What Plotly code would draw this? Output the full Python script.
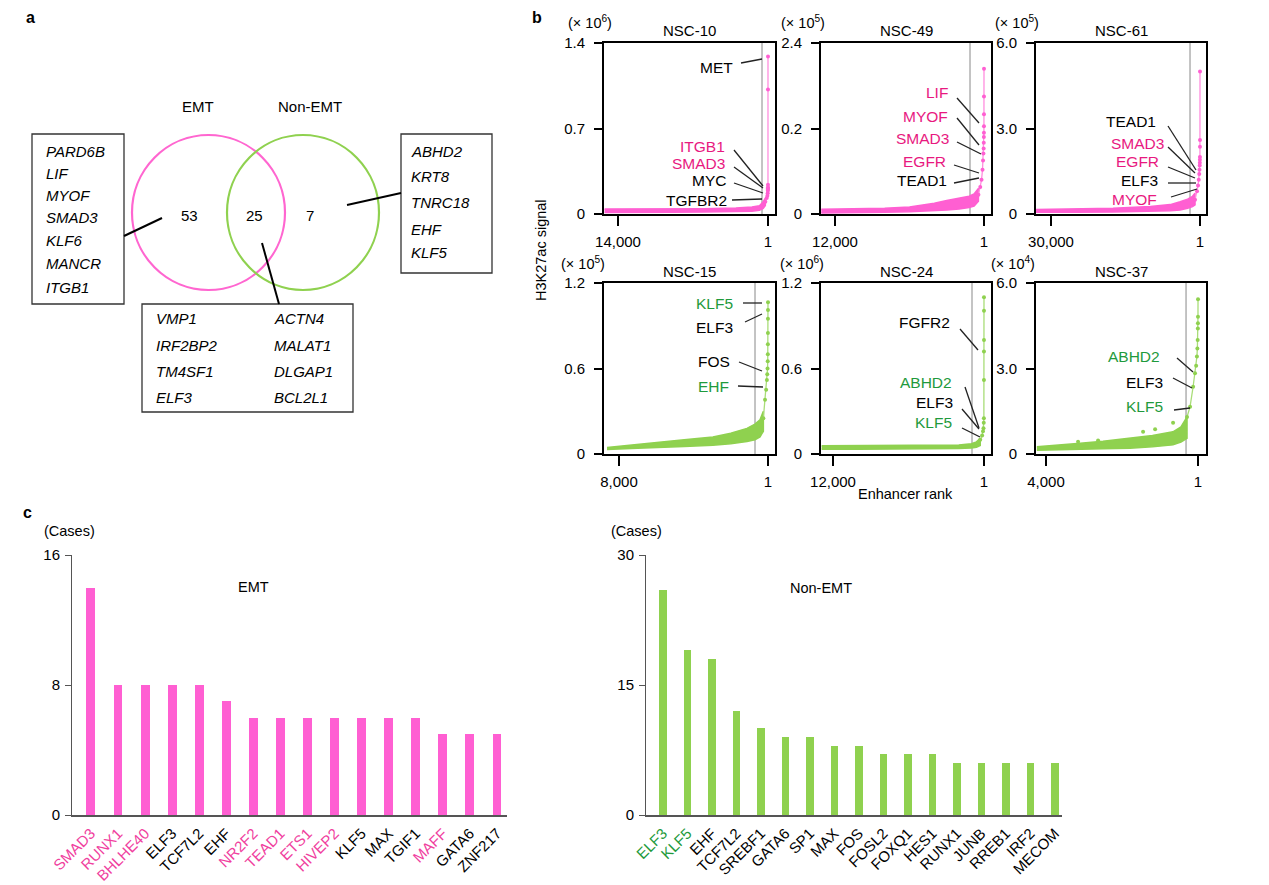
import plotly.graph_objects as go

# page body has an 8px margin: the figure is sized and offset so that
# pixel coordinates below refer to the browser window
OFF = 8
W, H = 1269 - OFF, 885 - OFF


def X(p):
    return (p - OFF) / W


def Y(p):
    return 1 - (p - OFF) / H


FONT = "Liberation Sans, Arial, Helvetica, sans-serif"
PINK = "#ff5fd2"
PINK_TAIL = "#ff8ede"
PINK_TXT = "#e8197f"
PINK_TICK = "#f0409e"
GREEN = "#8fd14f"
GREEN_TAIL = "#a9dd78"
GREEN_TXT = "#1f9a3c"

# ---------------- Panel a data ----------------
venn_sets = ["EMT", "Non-EMT"]
venn_counts = [53, 25, 7]  # EMT only, shared, Non-EMT only
emt_only_genes = ["PARD6B", "LIF", "MYOF", "SMAD3", "KLF6", "MANCR", "ITGB1"]
shared_genes_col1 = ["VMP1", "IRF2BP2", "TM4SF1", "ELF3"]
shared_genes_col2 = ["ACTN4", "MALAT1", "DLGAP1", "BCL2L1"]
nonemt_only_genes = ["ABHD2", "KRT8", "TNRC18", "EHF", "KLF5"]

# ---------------- Panel b data ----------------
samples = ["NSC-10", "NSC-49", "NSC-61", "NSC-15", "NSC-24", "NSC-37"]
sample_group = ["emt", "emt", "emt", "non", "non", "non"]
sample_exponent = [6, 5, 5, 5, 6, 4]
y_top = [1.4, 2.4, 6.0, 1.2, 1.2, 6.0]
y_ticktext = [["0", "0.7", "1.4"], ["0", "0.2", "2.4"], ["0", "3.0", "6.0"],
              ["0", "0.6", "1.2"], ["0", "0.6", "1.2"], ["0", "3.0", "6.0"]]
x_tick_rank = [14000, 12000, 30000, 8000, 12000, 4000]
x_tick_text = ["14,000", "12,000", "30,000", "8,000", "12,000", "4,000"]
x_range = [[15307, -652], [13127, -563], [33020, -1207],
           [8805, -375], [12954, -556], [4263, -209]]
cutoff_rank = [560, 1127, 2010, 698, 954, 316]

# noisy band envelopes (rank, lower, upper) and top-ranked enhancers (rank, signal)
nsc10_band_rank = [15250, 12000, 9000, 6000, 3000, 1500, 800, 450, 250]
nsc10_band_lo = [0.012, 0.013, 0.014, 0.016, 0.019, 0.023, 0.030, 0.045, 0.070]
nsc10_band_hi = [0.040, 0.040, 0.042, 0.044, 0.050, 0.058, 0.068, 0.100, 0.130]
nsc10_top_rank = [250, 120, 60, 30, 15, 8, 5, 4, 3, 2, 1]
nsc10_top_val = [0.10, 0.13, 0.15, 0.17, 0.19, 0.20, 0.21, 0.22, 0.24, 1.02, 1.29]

nsc49_band_rank = [13100, 10000, 8000, 6000, 4000, 3000, 2000, 1200, 800, 450]
nsc49_band_lo = [0.015, 0.020, 0.024, 0.030, 0.045, 0.056, 0.070, 0.090, 0.110, 0.180]
nsc49_band_hi = [0.065, 0.072, 0.080, 0.100, 0.150, 0.190, 0.220, 0.250, 0.280, 0.360]
nsc49_top_rank = [450, 300, 200, 120, 80, 50, 30, 20, 12, 8, 5, 3, 2, 1]
nsc49_top_val = [0.27, 0.38, 0.48, 0.62, 0.75, 0.85, 0.92, 1.00, 1.08, 1.14, 1.23, 1.40, 1.65, 2.04]

nsc61_band_rank = [33000, 25000, 17500, 10000, 6000, 4000, 2500, 1500, 1000]
nsc61_band_lo = [0.06, 0.065, 0.07, 0.09, 0.11, 0.14, 0.20, 0.26, 0.32]
nsc61_band_hi = [0.16, 0.18, 0.20, 0.26, 0.33, 0.43, 0.52, 0.62, 0.73]
nsc61_top_rank = [1000, 600, 400, 250, 150, 100, 60, 40, 25, 15, 8, 3, 1]
nsc61_top_val = [0.50, 0.80, 1.00, 1.20, 1.40, 1.55, 1.70, 1.80, 1.90, 2.00, 2.36, 2.60, 5.00]

nsc15_band_rank = [8640, 7000, 5640, 4500, 2960, 2000, 1130, 700, 430, 250]
nsc15_band_lo = [0.032, 0.040, 0.048, 0.052, 0.062, 0.072, 0.088, 0.100, 0.120, 0.160]
nsc15_band_hi = [0.045, 0.065, 0.085, 0.100, 0.120, 0.145, 0.180, 0.210, 0.240, 0.300]
nsc15_top_rank = [250, 160, 100, 60, 40, 25, 15, 10, 7, 5, 3, 2, 1]
nsc15_top_val = [0.25, 0.38, 0.45, 0.52, 0.56, 0.60, 0.65, 0.70, 0.77, 0.85, 0.95, 1.01, 1.065]

nsc24_band_rank = [12900, 10000, 7000, 4000, 2000, 1000, 600, 300]
nsc24_band_lo = [0.033, 0.034, 0.035, 0.036, 0.038, 0.042, 0.048, 0.060]
nsc24_band_hi = [0.058, 0.058, 0.059, 0.060, 0.063, 0.072, 0.085, 0.110]
nsc24_top_rank = [300, 150, 80, 40, 20, 10, 6, 4, 3, 2, 1]
nsc24_top_val = [0.10, 0.13, 0.16, 0.18, 0.22, 0.25, 0.52, 0.72, 0.80, 1.006, 1.10]

nsc37_band_rank = [4240, 3700, 3100, 2500, 1790, 1200, 660, 450, 290]
nsc37_band_lo = [0.13, 0.14, 0.16, 0.18, 0.20, 0.25, 0.32, 0.42, 0.55]
nsc37_band_hi = [0.25, 0.30, 0.38, 0.45, 0.55, 0.65, 0.78, 0.95, 1.30]
nsc37_top_rank = [290, 210, 130, 80, 50, 30, 18, 10, 5, 3, 2, 1]
nsc37_top_val = [1.30, 1.66, 2.36, 2.83, 3.10, 3.42, 3.70, 4.00, 4.40, 4.59, 4.82, 5.43]
nsc37_outlier_rank = [3156, 2630, 1446, 1130, 657]
nsc37_outlier_val = [0.43, 0.47, 0.78, 0.87, 1.10]

band_rank = [nsc10_band_rank, nsc49_band_rank, nsc61_band_rank, nsc15_band_rank, nsc24_band_rank, nsc37_band_rank]
band_lo = [nsc10_band_lo, nsc49_band_lo, nsc61_band_lo, nsc15_band_lo, nsc24_band_lo, nsc37_band_lo]
band_hi = [nsc10_band_hi, nsc49_band_hi, nsc61_band_hi, nsc15_band_hi, nsc24_band_hi, nsc37_band_hi]
top_rank = [nsc10_top_rank, nsc49_top_rank, nsc61_top_rank, nsc15_top_rank, nsc24_top_rank, nsc37_top_rank]
top_val = [nsc10_top_val, nsc49_top_val, nsc61_top_val, nsc15_top_val, nsc24_top_val, nsc37_top_val]

# labelled genes per sample: (gene, group)
nsc10_genes = [("MET", "k"), ("ITGB1", "emt"), ("SMAD3", "emt"), ("MYC", "k"), ("TGFBR2", "k")]
nsc49_genes = [("LIF", "emt"), ("MYOF", "emt"), ("SMAD3", "emt"), ("EGFR", "emt"), ("TEAD1", "k")]
nsc61_genes = [("TEAD1", "k"), ("SMAD3", "emt"), ("EGFR", "emt"), ("ELF3", "k"), ("MYOF", "emt")]
nsc15_genes = [("KLF5", "non"), ("ELF3", "k"), ("FOS", "k"), ("EHF", "non")]
nsc24_genes = [("FGFR2", "k"), ("ABHD2", "non"), ("ELF3", "k"), ("KLF5", "non")]
nsc37_genes = [("ABHD2", "non"), ("ELF3", "k"), ("KLF5", "non")]
sample_genes = [nsc10_genes, nsc49_genes, nsc61_genes, nsc15_genes, nsc24_genes, nsc37_genes]

# ---------------- Panel c data ----------------
emt_tfs = ["SMAD3", "RUNX1", "BHLHE40", "ELF3", "TCF7L2", "EHF", "NR2F2", "TEAD1",
           "ETS1", "HIVEP2", "KLF5", "MAX", "TGIF1", "MAFF", "GATA6", "ZNF217"]
emt_cases = [14, 8, 8, 8, 8, 7, 6, 6, 6, 6, 6, 6, 6, 5, 5, 5]
emt_highlight = ["SMAD3", "RUNX1", "BHLHE40", "NR2F2", "TEAD1", "ETS1", "HIVEP2", "MAFF"]
non_tfs = ["ELF3", "KLF5", "EHF", "TCF7L2", "SREBF1", "GATA6", "SP1", "MAX", "FOS",
           "FOSL2", "FOXQ1", "HES1", "RUNX1", "JUNB", "RREB1", "IRF2", "MECOM"]
non_cases = [26, 19, 18, 12, 10, 9, 9, 8, 8, 7, 7, 7, 6, 6, 6, 6, 6]
non_highlight = ["ELF3", "KLF5"]

# ---------------- layout geometry (pixels) ----------------
cols_px = [(604, 775), (821, 991), (1036, 1206)]
rows_px = [(43, 214), (283, 454)]

label_pos = [
    [(735, 68, 741, 63, 762, 59), (727, 147, 734, 150, 763, 186), (727, 164, 734, 167, 763, 188),
     (728, 180, 734, 183, 763, 193), (729, 200, 732, 200, 762, 199)],
    [(950, 93, 957, 98, 979, 123), (950, 117, 957, 118, 979, 145), (951, 139, 957, 142, 981, 154),
     (948, 162, 954, 165, 979, 173), (949, 181, 954, 183, 979, 178)],
    [(1158, 121, 1168, 126, 1196, 170), (1166, 143, 1168, 147, 1195, 173), (1161, 161, 1168, 167, 1195, 178),
     (1160, 180, 1168, 183, 1196, 183), (1159, 199, 1171, 197, 1197, 189)],
    [(735, 303, 743, 303, 762, 303), (735, 327, 745, 322, 762, 314), (732, 361, 739, 362, 762, 371),
     (731, 386, 738, 386, 763, 387)],
    [(952, 322, 960, 329, 978, 350), (954, 382, 965, 387, 979, 428), (955, 403, 962, 409, 979, 429),
     (954, 422, 962, 428, 980, 437)],
    [(1162, 356, 1177, 358, 1193, 372), (1165, 382, 1173, 378, 1192, 388), (1165, 406, 1174, 410, 1190, 408)],
]
exp_pos = [(590, 22), (803, 22), (1017, 22), (583, 263), (802, 263), (1013, 263)]

fig = go.Figure()
annotations = []
shapes = []


def txt(x, y, s, size=14, color="black", xanchor="center", yanchor="middle", angle=0, family=FONT):
    annotations.append(dict(x=X(x), y=Y(y), xref="paper", yref="paper", text=s, showarrow=False,
                            font=dict(family=family, size=size, color=color),
                            xanchor=xanchor, yanchor=yanchor, textangle=angle))


def seg(x0, y0, x1, y1, color="black", w=1.3):
    shapes.append(dict(type="line", xref="paper", yref="paper", x0=X(x0), y0=Y(y0),
                       x1=X(x1), y1=Y(y1), line=dict(color=color, width=w)))


def rect(x0, y0, x1, y1):
    shapes.append(dict(type="rect", xref="paper", yref="paper", x0=X(x0), y0=Y(y1),
                       x1=X(x1), y1=Y(y0), line=dict(color="#333333", width=1.3)))


def aid(n):
    return "" if n == 1 else str(n)


# ---------------- Panel a ----------------
txt(30, 17, "<b>a</b>", size=16)
shapes.append(dict(type="circle", xref="paper", yref="paper", x0=X(132), x1=X(285), y0=Y(290), y1=Y(135),
                   line=dict(color="#ff66d0", width=2.2)))
shapes.append(dict(type="circle", xref="paper", yref="paper", x0=X(227), x1=X(379), y0=Y(290), y1=Y(135),
                   line=dict(color=GREEN, width=2.2)))
txt(198, 107, venn_sets[0], size=15)
txt(310, 107, venn_sets[1], size=15)
txt(190, 216, str(venn_counts[0]), size=15)
txt(254, 216, str(venn_counts[1]), size=15)
txt(310, 216, str(venn_counts[2]), size=15)
rect(32, 134, 124, 304)
rect(401, 134, 492, 273)
rect(142, 304, 353, 412)
GF = 15
for g, yy in zip(emt_only_genes, [152, 173, 195, 217, 241, 263, 287]):
    txt(44, yy, "<i>" + g + "</i>", size=GF, xanchor="left")
for g, yy in zip(nonemt_only_genes, [151, 177, 203, 229, 252]):
    txt(409, yy, "<i>" + g + "</i>", size=GF, xanchor="left")
for g, yy in zip(shared_genes_col1, [318, 345, 371, 398]):
    txt(154, yy, "<i>" + g + "</i>", size=GF, xanchor="left")
for g, yy in zip(shared_genes_col2, [318, 345, 371, 398]):
    txt(272, yy, "<i>" + g + "</i>", size=GF, xanchor="left")
seg(124, 236, 162, 218, w=2)
seg(347, 205, 401, 193, w=2)
seg(262, 243, 279, 304, w=2)

# ---------------- Panel b ----------------
txt(537, 17, "<b>b</b>", size=16)
axis_font = dict(family=FONT, size=15, color="black")
layout_axes = {}
for i in range(6):
    n = i + 1
    a = aid(n)
    r, c = divmod(i, 3)
    left, right = cols_px[c]
    top, bottom = rows_px[r]
    emt = sample_group[i] == "emt"
    col = PINK if emt else GREEN
    tail_col = PINK_TAIL if emt else GREEN_TAIL
    xs = band_rank[i] + band_rank[i][::-1]
    ys = band_hi[i] + band_lo[i][::-1]
    fig.add_trace(go.Scatter(x=xs, y=ys, fill="toself", fillcolor=col, mode="lines",
                             line=dict(color=col, width=1.5), hoverinfo="skip", showlegend=False,
                             xaxis="x" + a, yaxis="y" + a))
    fig.add_trace(go.Scatter(x=top_rank[i], y=top_val[i], mode="lines+markers",
                             line=dict(color=tail_col, width=1.3), marker=dict(color=col, size=4),
                             showlegend=False, xaxis="x" + a, yaxis="y" + a))
    if samples[i] == "NSC-37":
        fig.add_trace(go.Scatter(x=nsc37_outlier_rank, y=nsc37_outlier_val, mode="markers",
                                 marker=dict(color=col, size=4), showlegend=False,
                                 xaxis="x" + a, yaxis="y" + a))
    shapes.append(dict(type="line", xref="x" + a, yref="y" + a + " domain", x0=cutoff_rank[i], x1=cutoff_rank[i],
                       y0=0, y1=1, line=dict(color="#b0b0b0", width=1.5), layer="below"))
    layout_axes["xaxis" + a] = dict(domain=[X(left), X(right)], range=x_range[i], anchor="y" + a,
                                    tickvals=[x_tick_rank[i], 1], ticktext=[x_tick_text[i], "1"],
                                    ticks="outside", ticklen=10, tickwidth=1.5, tickcolor="black",
                                    showline=True, linewidth=1.8, linecolor="black", mirror=True,
                                    showgrid=False, zeroline=False, tickfont=axis_font, ticklabelstandoff=3,
                                    automargin=False)
    yt = y_top[i]
    layout_axes["yaxis" + a] = dict(domain=[Y(bottom), Y(top)], range=[0, yt], anchor="x" + a,
                                    tickvals=[0, yt / 2, yt], ticktext=y_ticktext[i],
                                    ticks="outside", ticklen=8, tickwidth=1.5, tickcolor="black",
                                    showline=True, linewidth=1.8, linecolor="black", mirror=True,
                                    showgrid=False, zeroline=False, tickfont=axis_font, ticklabelstandoff=6,
                                    automargin=False)
    txt((left + right) / 2, top - 12, samples[i], size=15)
    ex, ey = exp_pos[i]
    txt(ex, ey, f"(× 10<sup>{sample_exponent[i]}</sup>)", size=14.5)
    for (gene, grp), (tx, ty, lx0, ly0, lx1, ly1) in zip(sample_genes[i], label_pos[i]):
        colr = PINK_TXT if grp == "emt" else (GREEN_TXT if grp == "non" else "black")
        txt(tx, ty, gene, size=15.5, color=colr, xanchor="right")
        seg(lx0, ly0, lx1, ly1, color="#222222", w=1.3)

txt(541, 250, "H3K27ac signal", size=14.5, angle=-90)
txt(905, 494, "Enhancer rank", size=14.5)

# ---------------- Panel c ----------------
txt(27, 512, "<b>c</b>", size=16)


def colored(names, hl, color):
    return [f"<span style='color:{color}'>{t}</span>" if t in hl else t for t in names]


fig.add_trace(go.Bar(x=emt_tfs, y=emt_cases, marker=dict(color=PINK, line=dict(width=0)), width=0.33,
                     showlegend=False, xaxis="x7", yaxis="y7"))
fig.add_trace(go.Bar(x=non_tfs, y=non_cases, marker=dict(color=GREEN, line=dict(width=0)), width=0.3,
                     showlegend=False, xaxis="x8", yaxis="y8"))
cfont = dict(family=FONT, size=15, color="black")
layout_axes["xaxis7"] = dict(domain=[X(72), X(507)], range=[-0.7, 15.37], anchor="y7", type="category",
                             tickvals=emt_tfs, ticktext=colored(emt_tfs, emt_highlight, PINK_TICK),
                             tickangle=-45, ticks="", showline=True, linecolor="#555555", linewidth=1.8,
                             showgrid=False, zeroline=False, tickfont=cfont, automargin=False,
                             ticklabelstandoff=2)
layout_axes["yaxis7"] = dict(domain=[Y(815), Y(555)], range=[0, 16], anchor="x7", tickvals=[0, 8, 16],
                             ticks="outside", ticklen=6, tickcolor="#555555", showline=True,
                             linecolor="#555555", linewidth=1, showgrid=False, zeroline=False,
                             tickfont=cfont, ticklabelstandoff=2, automargin=False)
layout_axes["xaxis8"] = dict(domain=[X(646), X(1062)], range=[-0.69, 16.29], anchor="y8", type="category",
                             tickvals=non_tfs, ticktext=colored(non_tfs, non_highlight, GREEN_TXT),
                             tickangle=-45, ticks="", showline=True, linecolor="#555555", linewidth=1.8,
                             showgrid=False, zeroline=False, tickfont=cfont, automargin=False,
                             ticklabelstandoff=2)
layout_axes["yaxis8"] = dict(domain=[Y(815), Y(555)], range=[0, 30], anchor="x8", tickvals=[0, 15, 30],
                             ticks="outside", ticklen=6, tickcolor="#555555", showline=True,
                             linecolor="#555555", linewidth=1, showgrid=False, zeroline=False,
                             tickfont=cfont, ticklabelstandoff=2, automargin=False)
txt(69, 531, "(Cases)", size=14.5)
txt(636, 531, "(Cases)", size=14.5)
txt(253, 587, "EMT", size=14.5)
txt(821, 588, "Non-EMT", size=14.5)

fig.update_layout(template="none", width=W, height=H, autosize=False, margin=dict(l=0, r=0, t=0, b=0, pad=0),
                  paper_bgcolor="white", plot_bgcolor="rgba(0,0,0,0)",
                  font=dict(family=FONT, color="black"), showlegend=False,
                  annotations=annotations, shapes=shapes, bargap=0, **layout_axes)
fig.write_html("out.html")
